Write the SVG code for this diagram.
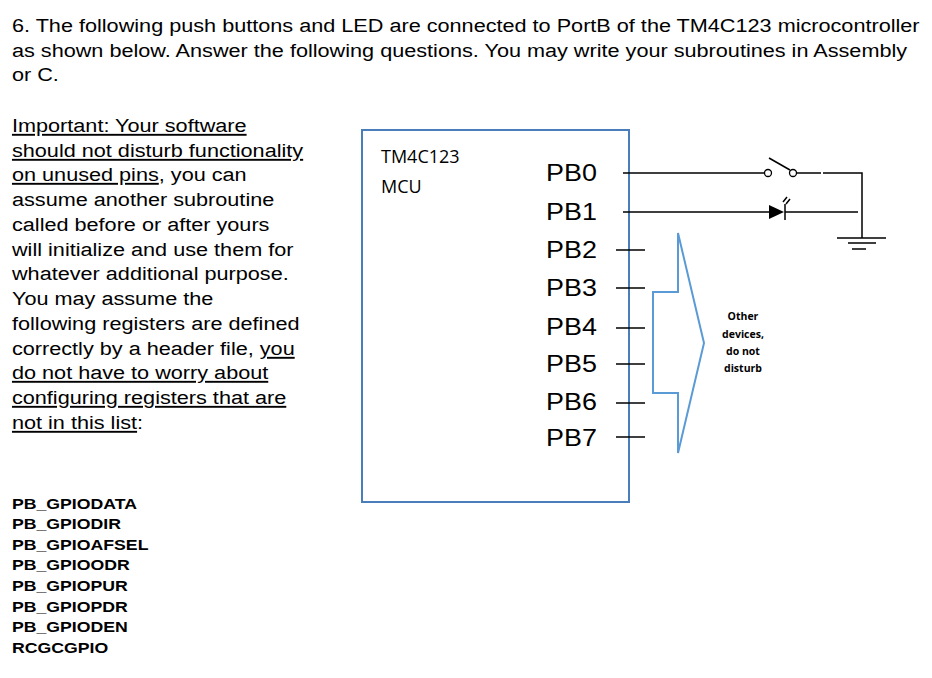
<svg xmlns="http://www.w3.org/2000/svg" width="932" height="678" viewBox="0 0 932 678">
<style>
.t{font-family:"Liberation Sans",Arial,sans-serif;font-size:19px;fill:#000}
.u{text-decoration:underline}
.b{font-family:"Liberation Sans",Arial,sans-serif;font-size:14.5px;font-weight:bold;fill:#000}
.p{font-family:"Liberation Sans",Arial,sans-serif;font-size:23px;fill:#000}
.m{font-family:"Open Sans","Liberation Sans",sans-serif;font-size:18px;fill:#000}
.s{font-family:"Open Sans","Liberation Sans",sans-serif;font-size:10.5px;font-weight:bold;fill:#000}
.w{stroke:#000;stroke-width:1.5;fill:none}
</style>
<rect width="932" height="678" fill="#fff"/>
<g id="question" transform="scale(1.14 1)">
<text class="t" x="10.5" y="32">6. The following push buttons and LED are connected to PortB of the TM4C123 microcontroller</text>
<text class="t" x="10.5" y="57">as shown below. Answer the following questions. You may write your subroutines in Assembly</text>
<text class="t" x="10.5" y="81">or C.</text>
<text class="t" x="10.5" y="132"><tspan class="u">Important: Your software</tspan></text>
<text class="t" x="10.5" y="157"><tspan class="u">should not disturb functionality</tspan></text>
<text class="t" x="10.5" y="181"><tspan class="u">on unused pins</tspan>, you can</text>
<text class="t" x="10.5" y="206">assume another subroutine</text>
<text class="t" x="10.5" y="231">called before or after yours</text>
<text class="t" x="10.5" y="256">will initialize and use them for</text>
<text class="t" x="10.5" y="280">whatever additional purpose.</text>
<text class="t" x="10.5" y="305">You may assume the</text>
<text class="t" x="10.5" y="330">following registers are defined</text>
<text class="t" x="10.5" y="355">correctly by a header file, <tspan class="u">you</tspan></text>
<text class="t" x="10.5" y="379"><tspan class="u">do not have to worry about</tspan></text>
<text class="t" x="10.5" y="404"><tspan class="u">configuring registers that are</tspan></text>
<text class="t" x="10.5" y="429"><tspan class="u">not in this list</tspan>:</text>
</g>
<g id="registers" transform="scale(1.22 1)">
<text class="b" x="9.8" y="509">PB_GPIODATA</text>
<text class="b" x="9.8" y="529">PB_GPIODIR</text>
<text class="b" x="9.8" y="550">PB_GPIOAFSEL</text>
<text class="b" x="9.8" y="570">PB_GPIOODR</text>
<text class="b" x="9.8" y="591">PB_GPIOPUR</text>
<text class="b" x="9.8" y="612">PB_GPIOPDR</text>
<text class="b" x="9.8" y="632">PB_GPIODEN</text>
<text class="b" x="9.8" y="653">RCGCGPIO</text>
</g>
<g id="mcu">
<rect x="362" y="130" width="267" height="372" fill="none" stroke="#4a7ebb" stroke-width="2"/>
<text class="m" x="381" y="163">TM4C123</text>
<text class="m" x="381" y="193">MCU</text>
<g transform="scale(1.17 1)">
<text class="p" x="466.7" y="181">PB0</text>
<text class="p" x="466.7" y="220">PB1</text>
<text class="p" x="466.7" y="258">PB2</text>
<text class="p" x="466.7" y="296">PB3</text>
<text class="p" x="466.7" y="335">PB4</text>
<text class="p" x="466.7" y="372">PB5</text>
<text class="p" x="466.7" y="410">PB6</text>
<text class="p" x="466.7" y="446">PB7</text>
</g>
</g>
<g id="connectors">
<path class="w" d="M623 173H764M797 173H821M823 173H862V238M623 212H770M785 212H858M616 250H645M616 288H645M616 328H645M616 364H645M616 403H645M616 437H645"/>
</g>
<g id="switch">
<circle cx="768" cy="173" r="3.5" fill="#fff" stroke="#000" stroke-width="1.3"/>
<circle cx="793" cy="173" r="3.5" fill="#fff" stroke="#000" stroke-width="1.3"/>
<path class="w" d="M769 158L790 170" stroke-width="1.3"/>
</g>
<g id="led">
<path d="M769 205L784 212L769 219Z" fill="#000"/>
<path class="w" d="M785 204V220M783 202L787 197M786 204L790 199" stroke-width="1.2"/>
</g>
<g id="ground">
<path class="w" d="M837 238H886M848 243H876M852 249H866" stroke-width="1.3"/>
</g>
<g id="other">
<polygon points="678,233 678,292 653,292 653,393 678,393 678,453 704,343" fill="none" stroke="#5b9bd5" stroke-width="2"/>
<text class="s" text-anchor="middle" x="743" y="320">Other</text>
<text class="s" text-anchor="middle" x="743" y="338">devices,</text>
<text class="s" text-anchor="middle" x="743" y="355">do not</text>
<text class="s" text-anchor="middle" x="743" y="372">disturb</text>
</g>
</svg>
